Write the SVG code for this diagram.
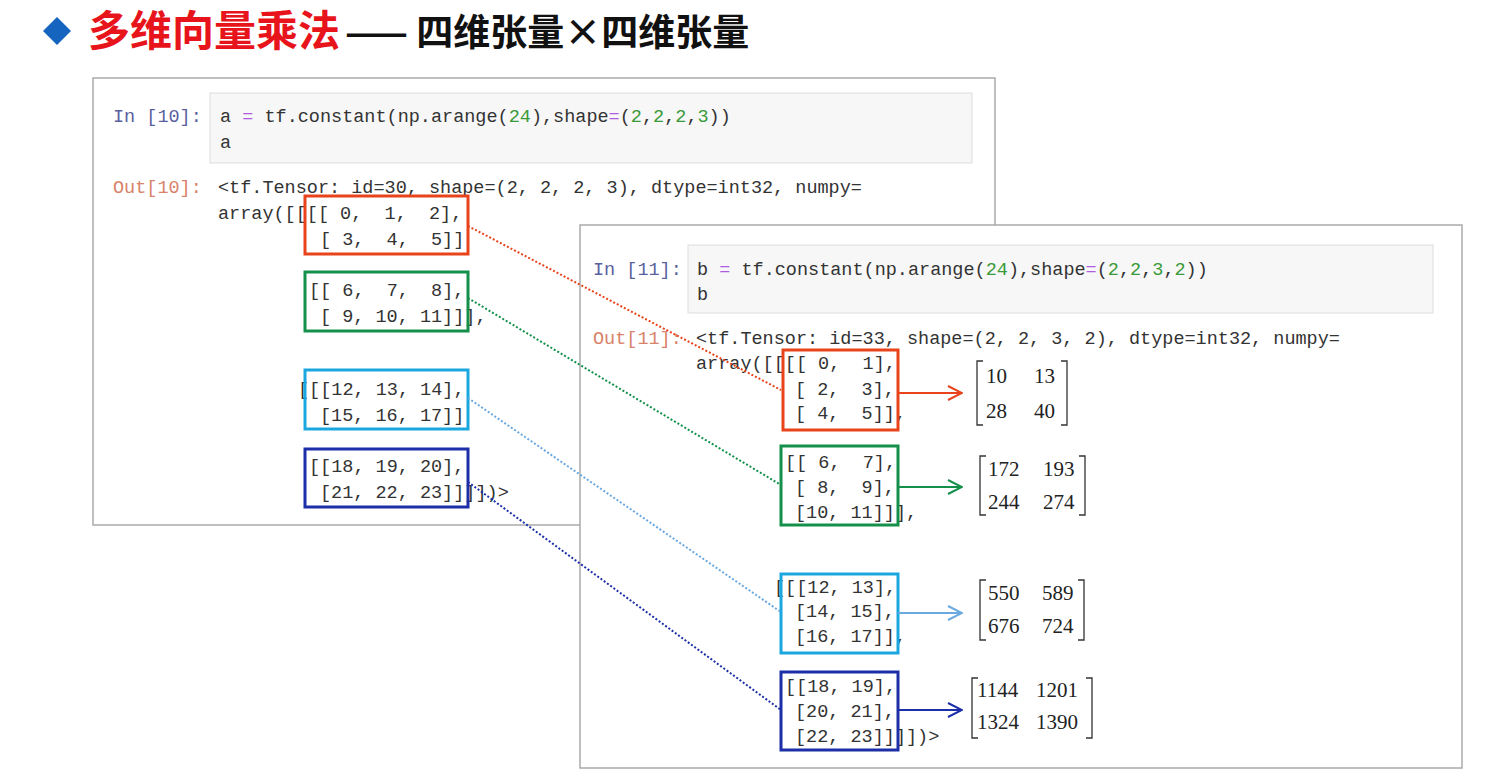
<svg xmlns="http://www.w3.org/2000/svg" width="1512" height="778" viewBox="0 0 1512 778">
<style>
.m{font-family:"Liberation Mono","DejaVu Sans Mono",monospace;font-size:18.5px;fill:#333;white-space:pre}
.in{fill:#5a5f9e}.out{fill:#d9826a}.g{fill:#3a9a3a}.p{fill:#b15ce0}
.t{font-family:"Liberation Serif",serif;font-size:21px;fill:#222}
.br{fill:none;stroke:#333;stroke-width:1.3}
.panel{fill:#fff;stroke:#aaa;stroke-width:1.5}
.cell{fill:#f7f7f7;stroke:#ddd}
</style>
<defs>
<marker id="ar" viewBox="0 0 16 16" refX="15" refY="8" markerWidth="16" markerHeight="16" markerUnits="userSpaceOnUse" orient="auto"><path d="M1,1 L15,8 L1,15" fill="none" stroke="context-stroke" stroke-width="2"/></marker>
</defs>
<rect width="1512" height="778" fill="#fff"/>
<g id="title">
<path d="M57,17 L71,31 L57,45 L43,31 Z" fill="#1565c0"/>
<text x="88" y="46" font-family="'Noto Sans CJK SC',sans-serif" font-weight="bold" font-size="42" fill="#e8141b">多维向量乘法</text>
<text x="345" y="46" font-family="'Noto Sans CJK SC',sans-serif" font-weight="bold" font-size="37" fill="#111" style="white-space:pre">—— 四维张量×四维张量</text>
</g>
<g id="panelA">
<rect class="panel" x="93" y="78" width="902" height="447"/>
<rect class="cell" x="210" y="93" width="762" height="70"/>
<text class="m in" x="113" y="122">In [10]:</text>
<text class="m" x="220" y="122">a <tspan class="p">=</tspan> tf.constant(np.arange(<tspan class="g">24</tspan>),shape<tspan class="p">=</tspan>(<tspan class="g">2</tspan>,<tspan class="g">2</tspan>,<tspan class="g">2</tspan>,<tspan class="g">3</tspan>))</text>
<text class="m" x="220" y="148">a</text>
<text class="m out" x="113" y="193">Out[10]:</text>
<text class="m" x="218" y="193">&lt;tf.Tensor: id=30, shape=(2, 2, 2, 3), dtype=int32, numpy=</text>
<text class="m" x="218" y="219">array([[[[ 0,  1,  2],</text>
<text class="m" x="320" y="245">[ 3,  4,  5]]</text>
<text class="m" x="309" y="296">[[ 6,  7,  8],</text>
<text class="m" x="320" y="322">[ 9, 10, 11]]],</text>
<text class="m" x="298" y="395">[[[12, 13, 14],</text>
<text class="m" x="320" y="421">[15, 16, 17]]</text>
<text class="m" x="309" y="472">[[18, 19, 20],</text>
<text class="m" x="320" y="498">[21, 22, 23]]]])&gt;</text>
</g>
<g id="boxA1"><rect x="305" y="196" width="163" height="58" fill="none" stroke="#e8431b" stroke-width="3"/></g>
<g id="boxA2"><rect x="305" y="272" width="163" height="59" fill="none" stroke="#14904a" stroke-width="3"/></g>
<g id="boxA3"><rect x="305" y="370" width="163" height="59" fill="none" stroke="#1aa7e0" stroke-width="3"/></g>
<g id="boxA4"><rect x="305" y="449" width="163" height="58" fill="none" stroke="#1c2fa8" stroke-width="3"/></g>
<g id="panelB">
<rect class="panel" x="580" y="225" width="882" height="543"/>
<rect class="cell" x="688" y="245" width="745" height="68"/>
<text class="m in" x="593" y="275">In [11]:</text>
<text class="m" x="697" y="275">b <tspan class="p">=</tspan> tf.constant(np.arange(<tspan class="g">24</tspan>),shape<tspan class="p">=</tspan>(<tspan class="g">2</tspan>,<tspan class="g">2</tspan>,<tspan class="g">3</tspan>,<tspan class="g">2</tspan>))</text>
<text class="m" x="697" y="300">b</text>
<text class="m out" x="593" y="344">Out[11]:</text>
<text class="m" x="696" y="344">&lt;tf.Tensor: id=33, shape=(2, 2, 3, 2), dtype=int32, numpy=</text>
<text class="m" x="696" y="369">array([[[[ 0,  1],</text>
<text class="m" x="795" y="395">[ 2,  3],</text>
<text class="m" x="795" y="419">[ 4,  5]],</text>
<text class="m" x="785" y="468">[[ 6,  7],</text>
<text class="m" x="795" y="493">[ 8,  9],</text>
<text class="m" x="795" y="518">[10, 11]]],</text>
<text class="m" x="774" y="593">[[[12, 13],</text>
<text class="m" x="795" y="617">[14, 15],</text>
<text class="m" x="795" y="642">[16, 17]],</text>
<text class="m" x="785" y="692">[[18, 19],</text>
<text class="m" x="795" y="717">[20, 21],</text>
<text class="m" x="795" y="742">[22, 23]]]])&gt;</text>
</g>
<g id="boxB1"><rect x="783" y="350" width="115" height="80" fill="none" stroke="#e8431b" stroke-width="3"/></g>
<g id="boxB2"><rect x="781" y="446" width="117" height="79" fill="none" stroke="#14904a" stroke-width="3"/></g>
<g id="boxB3"><rect x="781" y="574" width="117" height="79" fill="none" stroke="#1aa7e0" stroke-width="3"/></g>
<g id="boxB4"><rect x="781" y="672" width="117" height="78" fill="none" stroke="#1c2fa8" stroke-width="3"/></g>
<g id="res1">
<path class="br" d="M983,361 H977 V425 H983 M1061,361 H1067 V425 H1061"/>
<text class="t" x="986" y="383">10</text><text class="t" x="1034" y="383">13</text>
<text class="t" x="986" y="418">28</text><text class="t" x="1034" y="418">40</text>
</g>
<g id="res2">
<path class="br" d="M986,456 H980 V515 H986 M1079,456 H1085 V515 H1079"/>
<text class="t" x="988" y="476">172</text><text class="t" x="1043" y="476">193</text>
<text class="t" x="988" y="509">244</text><text class="t" x="1043" y="509">274</text>
</g>
<g id="res3">
<path class="br" d="M986,580 H980 V640 H986 M1078,580 H1084 V640 H1078"/>
<text class="t" x="988" y="600">550</text><text class="t" x="1042" y="600">589</text>
<text class="t" x="988" y="633">676</text><text class="t" x="1042" y="633">724</text>
</g>
<g id="res4">
<path class="br" d="M978,678 H972 V738 H978 M1086,678 H1092 V738 H1086"/>
<text class="t" x="977" y="697">1144</text><text class="t" x="1036" y="697">1201</text>
<text class="t" x="977" y="729">1324</text><text class="t" x="1036" y="729">1390</text>
</g>
<g id="connectors" fill="none" stroke-width="2">
<path d="M468,226 L781,390" stroke="#e8431b" stroke-dasharray="2,2"/>
<path d="M468,298 L781,485" stroke="#14904a" stroke-dasharray="2,2"/>
<path d="M468,398 L781,612" stroke="#6aa8e0" stroke-dasharray="2,2"/>
<path d="M468,482 L781,710" stroke="#1c2fa8" stroke-dasharray="2,2"/>
<path d="M898,393 L962,393" stroke="#e8431b" marker-end="url(#ar)"/>
<path d="M898,487 L962,487" stroke="#14904a" marker-end="url(#ar)"/>
<path d="M898,613 L962,613" stroke="#6aa8e0" marker-end="url(#ar)"/>
<path d="M898,710 L962,710" stroke="#1c2fa8" marker-end="url(#ar)"/>
</g>
</svg>
